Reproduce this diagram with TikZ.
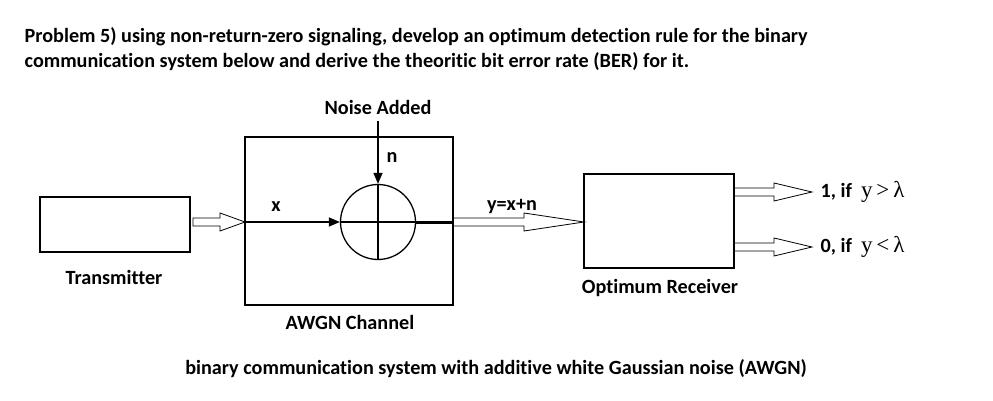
\documentclass[tikz,border=0pt]{standalone}
\usepackage{fontspec}
\setmainfont[Ligatures={NoCommon,NoContextual}]{Carlito}
\newfontfamily\serifm{Liberation Serif}
\usetikzlibrary{arrows.meta}
\newcommand\hollowarr[4]{% x1 x2 y headlen
  \draw[line width=0.8pt] (#1,#3-4) -- (#2-#4,#3-4) -- (#2-#4,#3-9) -- (#2,#3) -- (#2-#4,#3+9) -- (#2-#4,#3+4) -- (#1,#3+4) -- cycle;}
\begin{document}
\begin{tikzpicture}[x=1pt,y=-1pt,line width=1.3pt,
  lbl/.style={font=\fontsize{20.2}{22}\selectfont\bfseries,inner sep=0},
  boxs/.style={draw,line width=1.3pt,inner sep=0}]
\useasboundingbox (0,0) rectangle (993,401);
\node[lbl,anchor=west] (t1) at (24,37) {Problem 5) using non-return-zero signaling, develop an optimum detection rule for the binary};
\node[lbl,anchor=west] (t2) at (24,62) {communication system below and derive the theoritic bit error rate (BER) for it.};
\node[boxs,minimum width=150pt,minimum height=55pt] (tx) at (115,224.5) {};
\node[lbl] (txl) at (114,277) {Transmitter};
\node[boxs,minimum width=208pt,minimum height=168pt] (ch) at (349,221) {};
\node[lbl] (chl) at (350,322) {AWGN Channel};
\node[lbl] (na) at (378,107) {Noise Added};
\node[draw,circle,minimum size=75pt,inner sep=0] (sum) at (378,222) {};
\draw (sum.north) -- (sum.south) (sum.west) -- (sum.east);
\coordinate (ntop) at (378,121);
\draw[-{Triangle[length=11pt,width=9pt]}] (ntop) -- (sum.north);
\node[lbl] (nl) at (392,158) {n};
\draw[-{Triangle[length=11pt,width=9pt]}] (ch.west |- sum.west) -- (sum.west);
\node[lbl] (xl) at (276,207) {x};
\draw[line width=3pt] (sum.east) -- (ch.east |- sum.east);
\node[boxs,minimum width=150pt,minimum height=94pt] (rx) at (659,221) {};
\node[lbl] (rxl) at (660,288) {Optimum Receiver};
\hollowarr{193}{245}{222}{25}
\hollowarr{453}{584}{222}{60}
\node[lbl] (yl) at (512,206) {y=x+n};
\hollowarr{734}{812}{192}{38}
\hollowarr{734}{812}{247}{38}
\node[lbl,anchor=west] (o1) at (820,192) {1, if\ \ \mdseries\serifm\fontsize{23}{25}\selectfont y\,>\,λ};
\node[lbl,anchor=west] (o0) at (820,247) {0, if\ \ \mdseries\serifm\fontsize{23}{25}\selectfont y\,<\,λ};
\node[lbl] (cap) at (496,369) {binary communication system with additive white Gaussian noise (AWGN)};
\end{tikzpicture}
\end{document}
